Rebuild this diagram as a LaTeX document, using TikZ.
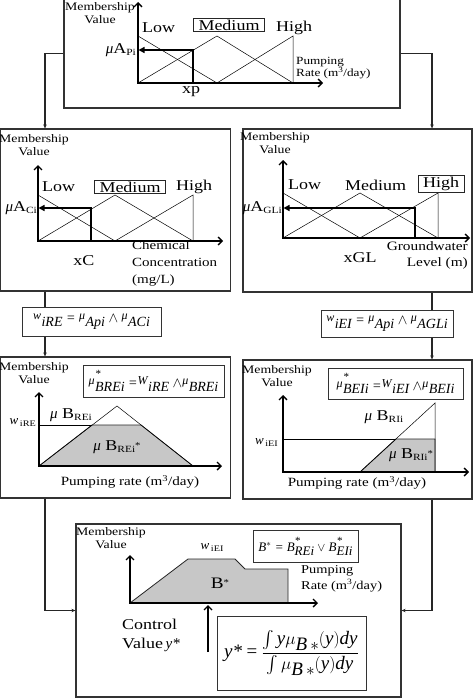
\documentclass[tikz,border=0pt]{standalone}
\usepackage{amsmath}
\usepackage{fontspec}
\setmainfont[FakeStretch=1.2]{Liberation Serif}
\newfontfamily\tnr{Liberation Serif}
\usetikzlibrary{arrows.meta}
\newcommand\fz[1]{\fontsize{#1}{#1}\selectfont}
\newcommand\ti[1]{\mbox{\tnr\itshape #1}}
\newcommand\tmu{{\tnr\itshape μ}}
\newcommand\sub[1]{\raisebox{-2.5pt}{\fz{9.5}#1}}
% formula piece: raised small base, lowered subscript
\newcommand\fb[2]{\raisebox{3pt}{\fz{12}#1}\kern0.5pt\raisebox{-3.5pt}{#2}}
\newcommand\fbs[2]{\raisebox{3pt}{\fz{12}#1}\kern0.5pt\rlap{\raisebox{10pt}{\fz{11}*}}\raisebox{-3.5pt}{#2}}
\newcommand\ws[2]{{\tnr\itshape\fz{13}#1}\,\raisebox{-2pt}{\fz{8.5}#2}}
\begin{document}
\begin{tikzpicture}[x=1pt,y=-1pt,
 panel/.style={draw=black!80,line width=1.2pt,inner sep=0pt},
 fbox/.style={draw=black!80,line width=1pt,inner sep=0pt},
 conn/.style={draw=black!85,line width=1.2pt},
 tip/.style={-{Stealth[length=4pt,width=3.5pt]}},
 axis/.style={line width=1.4pt,-{Straight Barb[length=4pt,width=8pt]}},
 mf/.style={line width=0.5pt},
 thk/.style={line width=2pt,-{Triangle[length=6pt,width=6pt]}},
 shade/.style={fill=black!22,draw=black!85,line width=0.8pt},
 small/.style={font=\fontsize{11.5}{13}\selectfont,align=center,inner sep=0pt},
 lbl/.style={font=\fz{15},inner sep=0pt},
 mbox/.style={draw=black!85,line width=0.9pt,inner xsep=5pt,inner ysep=1.5pt,font=\fz{15}}
]
\useasboundingbox (0,0) rectangle (474,698);
% ---------- panels ----------
\node[panel,minimum width=336pt,minimum height=109pt] (top) at (232,53.5) {};
\node[panel,minimum width=230pt,minimum height=162pt] (L1) at (115.5,210) {};
\node[panel,minimum width=229pt,minimum height=163pt] (R1) at (357.5,210.5) {};
\node[panel,minimum width=230pt,minimum height=141pt] (L2) at (115.5,427.5) {};
\node[panel,minimum width=229pt,minimum height=139pt] (R2) at (357.5,429.5) {};
\node[panel,minimum width=325pt,minimum height=173pt] (bot) at (238.5,610.5) {};
% formula boxes
\node[fbox,minimum width=139pt,minimum height=29pt,font=\tnr\itshape\fz{14}] (fl) at (91.5,321.5)
  {\fb{w}{iRE} = \fb{μ}{Api} $\wedge$ \fb{μ}{ACi}};
\node[fbox,minimum width=132pt,minimum height=27pt,font=\tnr\itshape\fz{14}] (fr) at (387,323.5)
  {\fb{w}{iEI} = \fb{μ}{Api} $\wedge$ \fb{μ}{AGLi}};
% ---------- connectors ----------
\coordinate (cl) at (45,0);
\coordinate (cr) at (432,0);
\draw[conn,tip] (top.west) -| (L1.north -| cl);
\draw[conn,tip] (top.east) -| (R1.north -| cr);
\draw[conn] (L1.south -| cl) -- (fl.north -| cl);
\draw[conn,tip] (fl.south -| cl) -- (L2.north -| cl);
\draw[conn] (R1.south -| cr) -- (fr.north -| cr);
\draw[conn,tip] (fr.south -| cr) -- (R2.north -| cr);
\draw[conn,tip] (L2.south -| cl) |- (bot.west);
\draw[conn,tip] (R2.south -| cr) |- (bot.east);
% ---------- top graph ----------
\draw[mf] (138,36) -- (217,83);
\draw[mf] (138,83) -- (217,36) -- (293,83);
\draw[mf] (217,83) -- (293,36) -- (293,83);
\draw[line width=2pt] (193,83) -- (193,50);
\draw[thk] (194,50) -- (138.5,50);
\draw[axis] (138,83) -- (138,2);
\draw[axis] (137.3,83) -- (323,83);
\node[small] (t-mv) at (100,13) {Membership\\Value};
\node[lbl,anchor=west] (t-low) at (142,28) {Low};
\node[mbox] (t-med) at (229,25) {Medium};
\node[lbl,anchor=west] (t-high) at (276,28) {High};
\node[lbl,anchor=east] (t-mu) at (136,50) {\tmu A\sub{Pi}};
\node[lbl] (t-xp) at (191,92) {xp};
\node[font=\fontsize{11}{12.5}\selectfont,align=left,anchor=west,inner sep=0pt] (t-ax) at (296,68) {Pumping\\Rate (m\textsuperscript{3}/day)};
% ---------- L1 graph ----------
\draw[mf] (38,195) -- (115,241);
\draw[mf] (38,241) -- (115,195) -- (193,241);
\draw[mf] (115,241) -- (193,195) -- (193,241);
\draw[line width=2pt] (91,241) -- (91,208);
\draw[thk] (92,208) -- (38.5,208);
\draw[axis] (38,241) -- (38,165);
\draw[axis] (37.3,241) -- (223,241);
\node[small] (l1-mv) at (34,145) {Membership\\Value};
\node[lbl,anchor=west] (l1-low) at (42,187) {Low};
\node[mbox] (l1-med) at (130,187) {Medium};
\node[lbl,anchor=west] (l1-high) at (176,187) {High};
\node[lbl,anchor=east] (l1-mu) at (37,208) {\tmu A\sub{Ci}};
\node[lbl] (l1-x) at (84,261) {xC};
\node[font=\fontsize{12.5}{17}\selectfont,align=left,anchor=north west,inner sep=0pt] (l1-ax) at (132,241) {Chemical\\Concentration\\(mg/L)};
% ---------- R1 graph ----------
\draw[mf] (283,193) -- (360,238);
\draw[mf] (283,238) -- (360,193) -- (438,238);
\draw[mf] (360,238) -- (438,193) -- (438,238);
\draw[line width=2pt] (415,238) -- (415,208);
\draw[thk] (416,208) -- (283.5,208);
\draw[axis] (283,238) -- (283,160);
\draw[axis] (282.3,238) -- (470,238);
\node[small] (r1-mv) at (275,143) {Membership\\Value};
\node[lbl,anchor=west] (r1-low) at (288,185) {Low};
\node[lbl,anchor=west] (r1-med) at (345,185) {Medium};
\node[mbox] (r1-high) at (441,184) {High};
\node[lbl,anchor=east] (r1-mu) at (282,208) {\tmu A\sub{GLi}};
\node[lbl] (r1-x) at (360,258) {xGL};
\node[font=\fontsize{12.8}{16}\selectfont,align=right,anchor=north east,inner sep=0pt] (r1-ax) at (468,241) {Groundwater\\Level (m)};
% ---------- L2 graph ----------
\draw[shade] (39,466) -- (92,425) -- (141,425) -- (193,466) -- cycle;
\draw[mf] (39,425) -- (92,425);
\draw[mf] (39,466) -- (117,406) -- (193,466);
\draw[axis] (39,466) -- (39,392);
\draw[axis] (38.3,466) -- (222,466);
\node[small] (l2-mv) at (34,373) {Membership\\Value};
\node[fbox,minimum width=141pt,minimum height=32pt,font=\tnr\itshape\fz{14}] (fl2) at (153.5,381)
  {\fbs{μ}{BREi} =\fb{W}{iRE} $\wedge$\fb{μ}{BREi}};
\node[inner sep=0pt,anchor=east] (l2-w) at (36,423) {\ws{w}{iRE}};
\node[font=\fz{15},inner sep=0pt] (l2-b) at (71,415) {\tmu\ B\sub{REi}};
\node[font=\fz{15},inner sep=0pt] (l2-bs) at (117,447) {\tmu\ B\sub{REi}\raisebox{2pt}{\fz{9}*}};
\node[font=\fz{12.6},inner sep=0pt] (l2-ax) at (130,482) {Pumping rate (m\textsuperscript{3}/day)};
% ---------- R2 graph ----------
\draw[shade] (360,472) -- (396,439) -- (435,439) -- (435,472) -- cycle;
\draw[mf] (283,439) -- (396,439);
\draw[mf] (360,472) -- (435,403) -- (435,472);
\draw[axis] (283,472) -- (283,395);
\draw[axis] (282.3,472) -- (469,472);
\node[small] (r2-mv) at (277,376) {Membership\\Value};
\node[fbox,minimum width=135pt,minimum height=31pt,font=\tnr\itshape\fz{14}] (fr2) at (395.5,383.5)
  {\fbs{μ}{BEIi} =\fb{W}{iEI} $\wedge$\fb{μ}{BEIi}};
\node[inner sep=0pt,anchor=east] (r2-w) at (278,443) {\ws{w}{iEI}};
\node[font=\fz{15},inner sep=0pt] (r2-b) at (384,417) {\tmu\ B\sub{RIi}};
\node[font=\fz{15},inner sep=0pt] (r2-bs) at (411,455) {\tmu\ B\sub{RIi}\raisebox{2pt}{\fz{9}*}};
\node[font=\fz{12.6},inner sep=0pt] (r2-ax) at (357,483) {Pumping rate (m\textsuperscript{3}/day)};
% ---------- bottom graph ----------
\draw[shade] (130,603) -- (188,559) -- (235,559) -- (245,569) -- (288,569) -- (288,603) -- cycle;
\draw[axis] (130,603) -- (130,555);
\draw[axis] (129.3,603) -- (318,603);
\draw[axis] (208,652) -- (208,605);
\node[small] (b-mv) at (111,538) {Membership\\Value};
\node[fbox,minimum width=105pt,minimum height=32pt,font=\tnr\itshape\fz{13}] (fb3) at (305.5,546)
  {B$^{*}$ = B\rlap{\raisebox{7pt}{\fz{11}*}}\raisebox{-4pt}{REi} $\vee$ B\rlap{\raisebox{7pt}{\fz{11}*}}\raisebox{-4pt}{EIi}};
\node[inner sep=0pt] (b-w) at (212,548) {\ws{w}{iEI}};
\node[font=\fz{16},inner sep=0pt] (b-B) at (220,583) {B\raisebox{3pt}{\fz{9}*}};
\node[font=\fontsize{12}{16}\selectfont,align=left,anchor=north west,inner sep=0pt] (b-ax) at (301,565) {Pumping\\Rate (m\textsuperscript{3}/day)};
\node[font=\fontsize{15}{19}\selectfont,align=left,anchor=north west,inner sep=0pt] (b-cv) at (122,619) {Control\\Value\,\ti{y*}};
\node[fbox,minimum width=149pt,minimum height=74pt,font=\tnr\itshape\fz{19}] (fy) at (291.5,653)
  {\ti{y*}\,=\,$\dfrac{\textstyle\int \ti{y}\mu\raisebox{-6pt}{\ti{B}\,$*$}(\ti{y})\ti{dy}}{\textstyle\int \mu\raisebox{-6pt}{\ti{B}\,$*$}(\ti{y})\ti{dy}}$};
\end{tikzpicture}
\end{document}
